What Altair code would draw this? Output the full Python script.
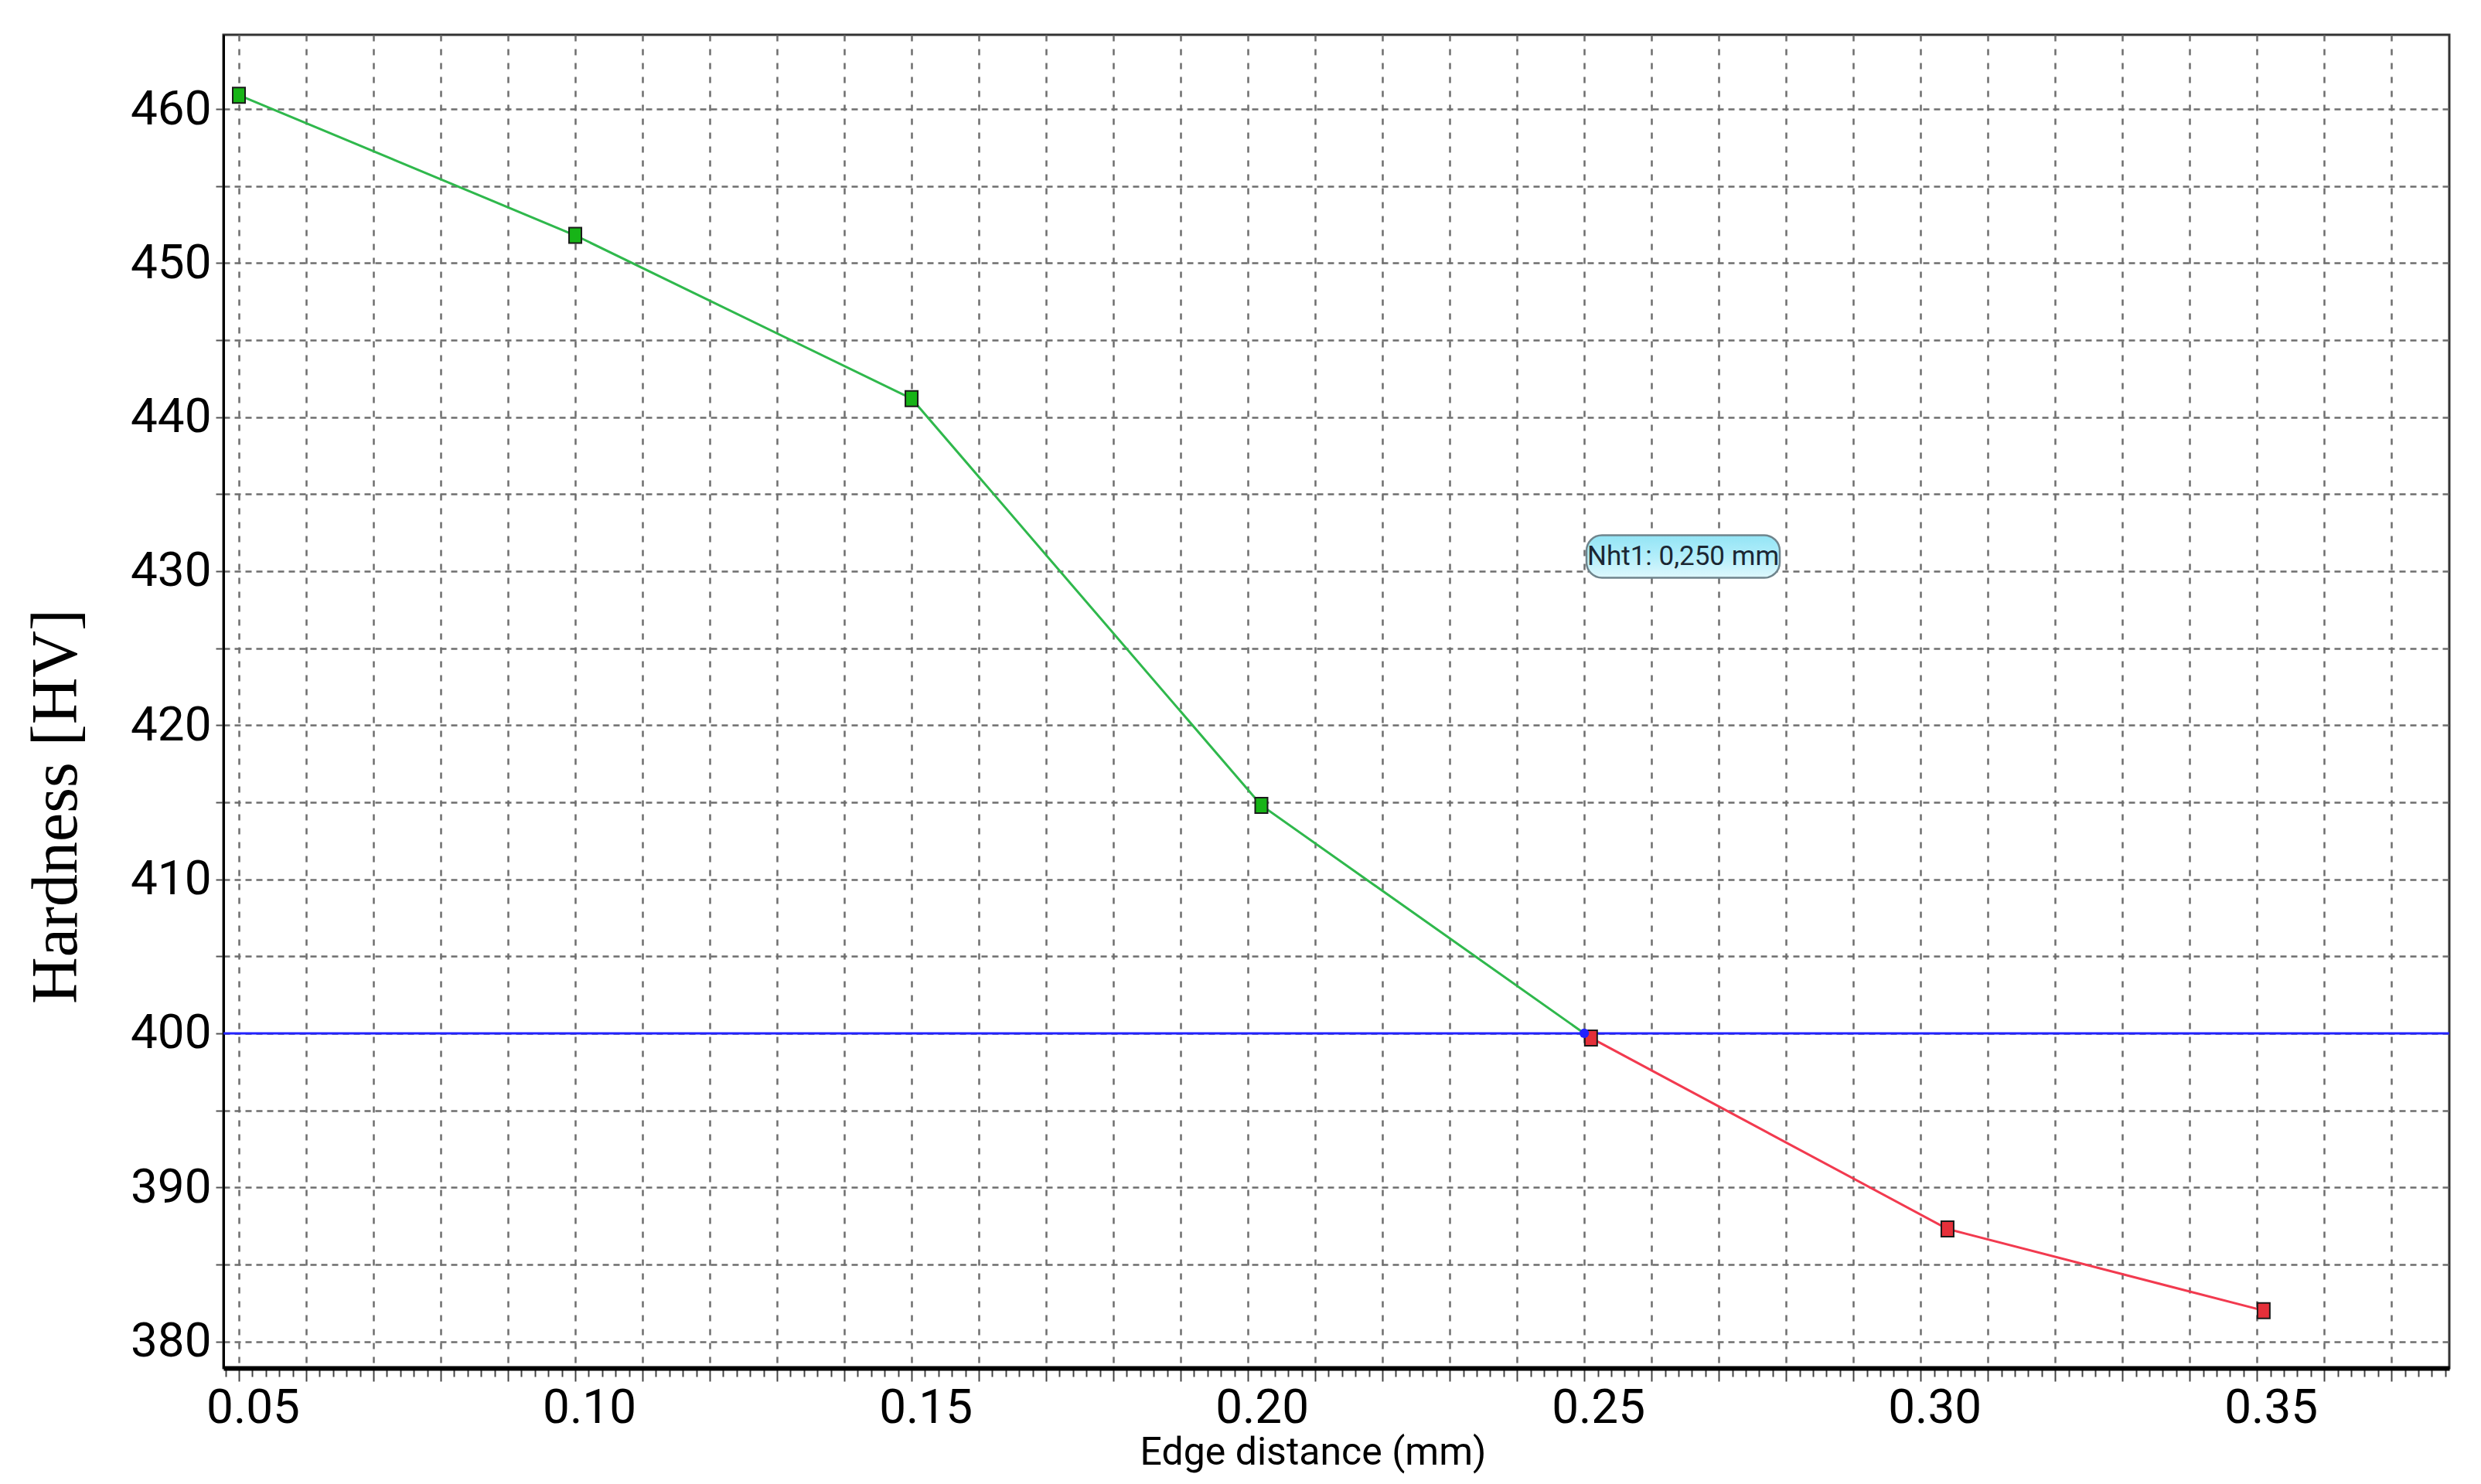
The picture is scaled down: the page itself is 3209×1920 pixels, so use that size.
import altair as alt
import pandas as pd

# ---------------- data ----------------
edge_mm = [0.050, 0.100, 0.150, 0.202, 0.251, 0.304, 0.351]
hardness_hv = [460.9, 451.8, 441.2, 414.8, 399.7, 387.3, 382.0]
zone = ["above", "above", "above", "above", "below", "below", "below"]

limit_hv = 400          # blue threshold line
nht_mm = 0.250          # intersection (Nht1)
label_text = "Nht1: 0,250 mm"
label_x = 0.2647
label_y = 430.95

x_domain = [0.0477, 0.3786]
y_domain = [378.27, 464.82]
x_tick_values = [round(0.048 + 0.002 * i, 3) for i in range(166)]
y_tick_values = list(range(380, 465, 5))

# ---------------- styles ----------------
SANS = "Roboto, Liberation Sans, sans-serif"
GREEN_LINE = "#2fb84c"
GREEN_FILL = "#17b417"
RED_LINE = "#f23a4f"
RED_FILL = "#e5303a"
BLUE = "#2323ff"
GRID = "#6e6e6e"

# ---------------- tables ----------------
pts = pd.DataFrame({"x": edge_mm, "y": hardness_hv, "zone": zone})
above = pts[pts.zone == "above"]
below = pts[pts.zone == "below"]
line_df = pd.concat([
    pd.DataFrame({"x": list(above.x) + [nht_mm], "y": list(above.y) + [limit_hv], "zone": "above"}),
    pd.DataFrame({"x": [nht_mm] + list(below.x), "y": [limit_hv] + list(below.y), "zone": "below"}),
], ignore_index=True)
line_df["order"] = range(len(line_df))
cross_df = pd.DataFrame({"x": [nht_mm], "y": [limit_hv]})
limit_df = pd.DataFrame({"y": [limit_hv]})
label_df = pd.DataFrame({"x": [label_x], "y": [label_y], "text": [label_text]})

major_test = "abs(datum.value*100 - round(datum.value*100)) < 0.001"

x_axis = alt.Axis(
    values=x_tick_values,
    title="Edge distance (mm)",
    labelExpr="abs(datum.value*20 - round(datum.value*20)) < 0.001 ? format(datum.value, '.2f') : ''",
    labelOverlap=False, labelFlush=False, labelBound=False,
    labelFont=SANS, labelFontSize=62, labelColor="black",
    labelOffset=18, labelPadding=4, labelBaseline="top",
    tickSize={"condition": {"test": major_test, "value": 17}, "value": 11},
    tickColor="#444", tickWidth=2,
    grid=True,
    gridOpacity={"condition": {"test": major_test, "value": 1}, "value": 0},
    gridColor=GRID, gridDash=[8, 10], gridWidth=2.5,
    domainColor="black", domainWidth=6,
    titleFont=SANS, titleFontSize=50, titleFontWeight="normal", titleColor="black",
    titleX=1409, titleY=124, titleAlign="center", titleBaseline="alphabetic",
)

y_axis = alt.Axis(
    values=y_tick_values,
    title="Hardness [HV]",
    labelExpr="datum.value % 10 == 0 ? format(datum.value, 'd') : ''",
    labelOverlap=False, labelFlush=False, labelBound=False,
    labelFont=SANS, labelFontSize=62, labelColor="black",
    labelPadding=6, labelBaseline="middle",
    tickSize=10, tickColor="#555", tickWidth=2,
    grid=True, gridColor=GRID, gridDash=[8, 6], gridWidth=2.5,
    domainColor="black", domainWidth=3,
    titleFont="Liberation Serif", titleFontSize=84, titleFontWeight="normal", titleColor="black",
    titleX=-191, titleY=998, titleAngle=270, titleAlign="center", titleBaseline="alphabetic",
)

x_enc = alt.X("x:Q", scale=alt.Scale(domain=x_domain, nice=False, zero=False), axis=x_axis)
y_enc = alt.Y("y:Q", scale=alt.Scale(domain=y_domain, nice=False, zero=False), axis=y_axis)
zone_color = alt.Color("zone:N", scale=alt.Scale(domain=["above", "below"], range=[GREEN_LINE, RED_LINE]), legend=None)
zone_fill = alt.Fill("zone:N", scale=alt.Scale(domain=["above", "below"], range=[GREEN_FILL, RED_FILL]), legend=None)

limit_rule = alt.Chart(limit_df).mark_rule(color=BLUE, strokeWidth=3).encode(y=y_enc)

lines = alt.Chart(line_df).mark_line(strokeWidth=3).encode(
    x=x_enc, y=y_enc, color=zone_color, detail="zone:N", order="order:Q"
)

SQUARE = "M-0.8,-1L0.8,-1L0.8,1L-0.8,1Z"
points = alt.Chart(pts).mark_point(
    shape=SQUARE, size=400, filled=True, opacity=1, stroke="#1a1a1a", strokeWidth=2
).encode(x=x_enc, y=y_enc, fill=zone_fill)

cross = alt.Chart(cross_df).mark_point(
    shape="circle", size=150, filled=True, opacity=1, color=BLUE
).encode(x=x_enc, y=y_enc)

BUBBLE = ("M-0.84,-0.22L0.84,-0.22A0.16,0.16 0 0 1 1,-0.06L1,0.06"
          "A0.16,0.16 0 0 1 0.84,0.22L-0.84,0.22A0.16,0.16 0 0 1 -1,0.06"
          "L-1,-0.06A0.16,0.16 0 0 1 -0.84,-0.22Z")
bubble = alt.Chart(label_df).mark_point(
    shape=BUBBLE, size=62500, filled=True, opacity=1,
    fill=alt.LinearGradient(
        gradient="linear",
        stops=[alt.GradientStop(color="#93e4f5", offset=0),
               alt.GradientStop(color="#b2eefa", offset=0.5),
               alt.GradientStop(color="#dff8fd", offset=1)],
        x1=0, x2=0, y1=0, y2=1,
    ),
    stroke="#6f848c", strokeWidth=2.5,
).encode(x=x_enc, y=y_enc)

label = alt.Chart(label_df).mark_text(
    font=SANS, fontSize=35, color="#1b2733", align="center", baseline="middle"
).encode(x=x_enc, y=y_enc, text="text:N")

chart = alt.layer(limit_rule, lines, points, cross, bubble, label).properties(
    width=2879, height=1725,
    autosize=alt.AutoSizeParams(type="none"),
    padding={"left": 281, "top": 37, "right": 33, "bottom": 142},
    background="white",
).configure_view(stroke="#333333", strokeWidth=3)

chart.save("out.html", embed_options={"renderer": "svg", "actions": False})
